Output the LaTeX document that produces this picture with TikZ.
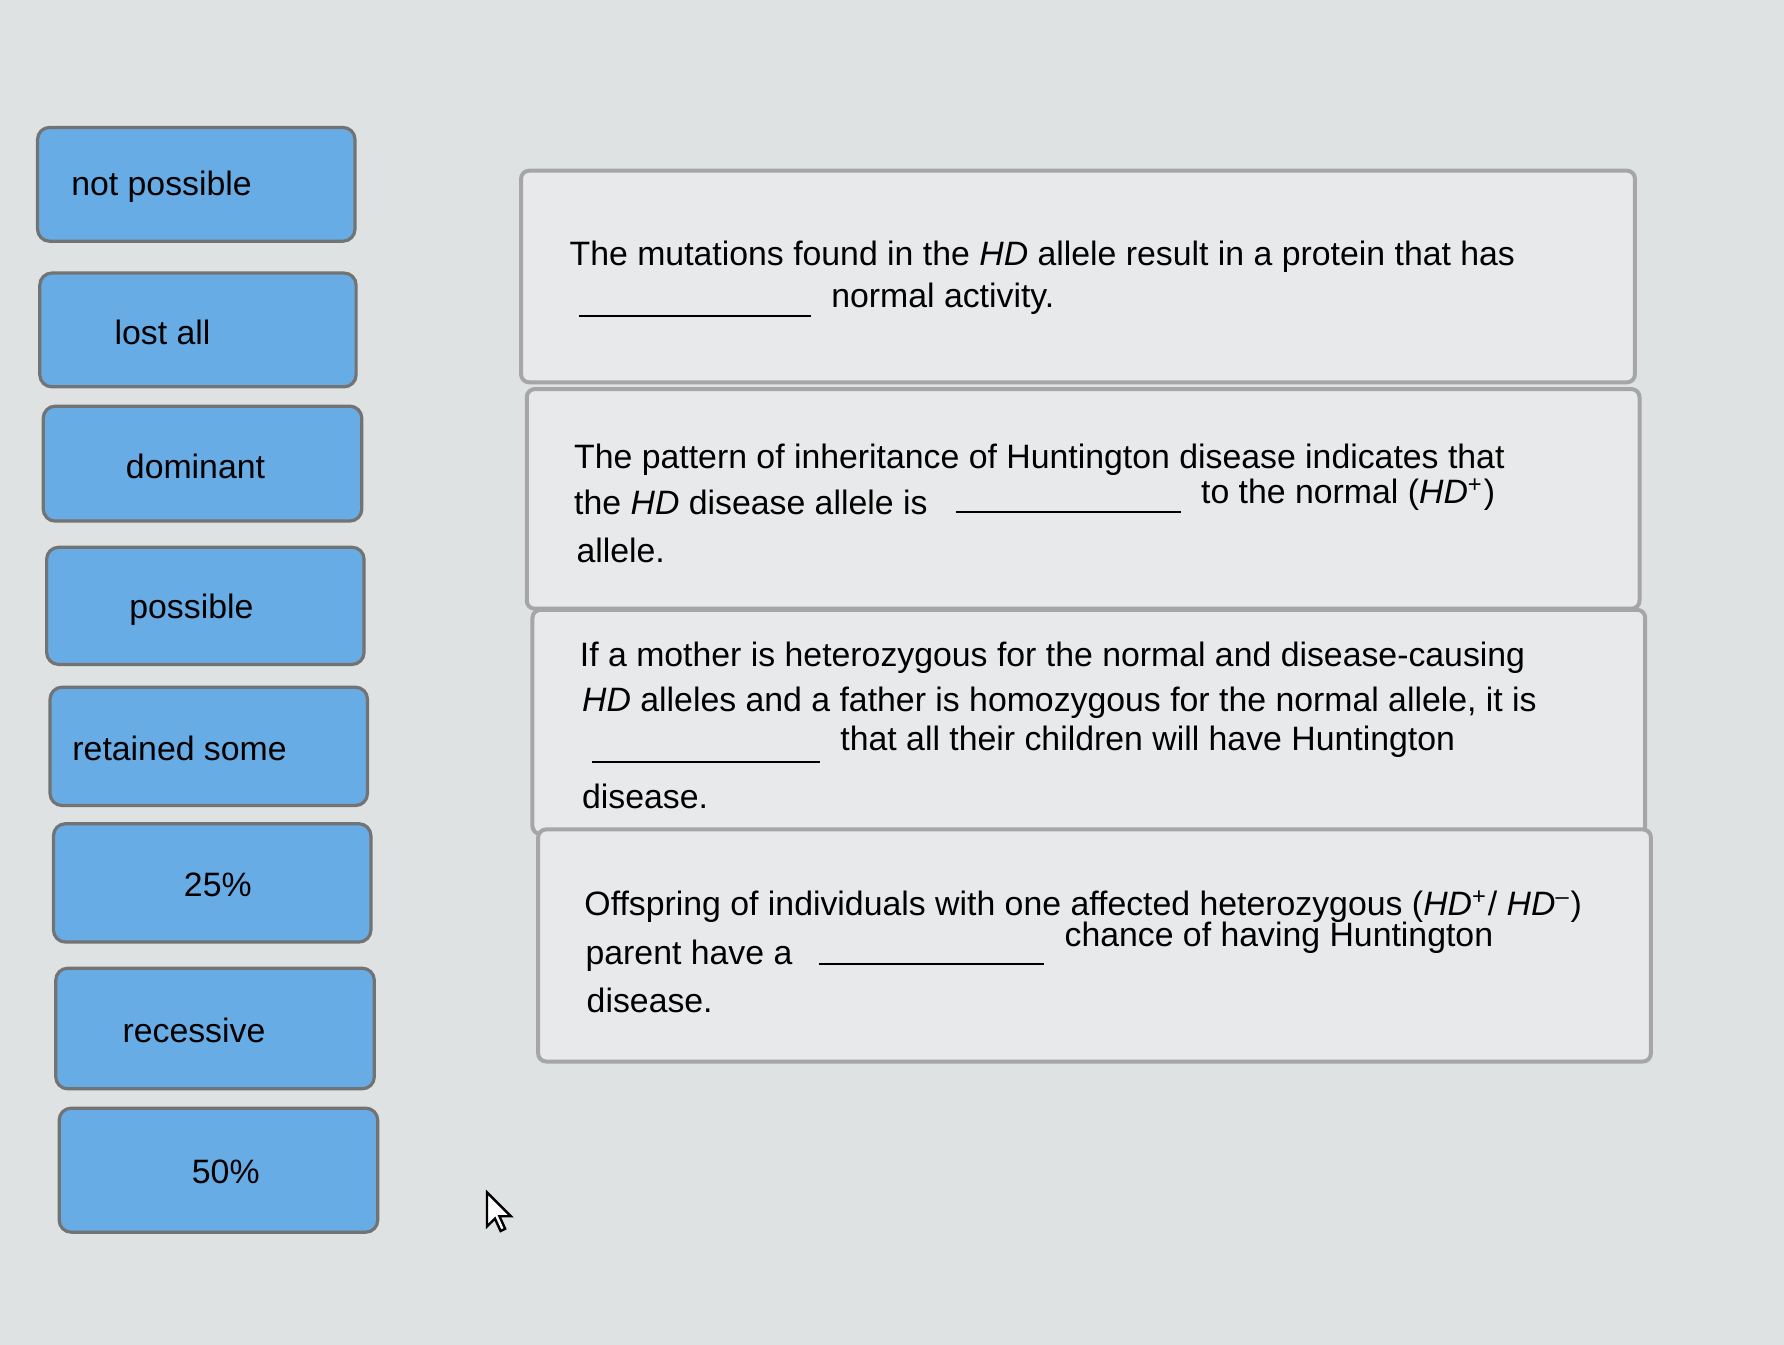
\documentclass[tikz,border=0pt]{standalone}
\usepackage{fontspec}
\setmainfont{Liberation Sans}
\begin{document}
\begin{tikzpicture}[x=0.01cm,y=-0.01cm,
  btn/.style={draw=black!55,fill=btnblue,rounded corners=3pt,line width=0.8pt},
  qbox/.style={draw=black!35,fill=boxgray,rounded corners=2pt,line width=1pt},
  tx/.style={anchor=west,inner sep=0pt,font=\fontsize{8.45}{10}\selectfont},
  bl/.style={line width=0.45pt}]
\definecolor{btnblue}{RGB}{104,172,230}
\definecolor{boxgray}{RGB}{231,233,234}
\definecolor{bg}{RGB}{223,226,227}
\fill[bg] (0,0) rectangle (1568,1182);
\useasboundingbox (0,0) rectangle (1568,1182);
% buttons
\draw[btn] (33,112) rectangle (312,212); \node[tx] (b1) at (62,164) {not possible};
\draw[btn] (35,240) rectangle (313,340); \node[tx] (b2) at (100,292) {lost all};
\draw[btn] (38,357) rectangle (318,458); \node[tx] (b3) at (110,410) {dominant};
\draw[btn] (41,481) rectangle (320,584); \node[tx] (b4) at (113,536) {possible};
\draw[btn] (44,604) rectangle (323,708); \node[tx] (b5) at (63,658) {retained some};
\draw[btn] (47,724) rectangle (326,828); \node[tx] (b6) at (161,778) {25\%};
\draw[btn] (49,851) rectangle (329,957); \node[tx] (b7) at (107,906) {recessive};
\draw[btn] (52,974) rectangle (332,1083); \node[tx] (b8) at (168,1030) {50\%};
% question boxes
\draw[qbox] (458,150) rectangle (1437,336);
\draw[qbox] (463,342) rectangle (1441,535);
\draw[qbox] (468,536) rectangle (1446,733);
\draw[qbox] (473,729) rectangle (1451,933);
% box 1
\node[tx] (t11) at (500,226) {The mutations found in the \textit{HD} allele result in a protein that has};
\draw[bl] (509,278) -- (713,278);
\node[tx] (t12) at (730,263) {normal activity.};
% box 2
\node[tx] (t21) at (504,404) {The pattern of inheritance of Huntington disease indicates that};
\node[tx] (t22) at (504,442) {the \textit{HD} disease allele is};
\draw[bl] (840,450) -- (1038,450);
\node[tx] (t23) at (1055,435) {to the normal (\textit{HD}\textsuperscript{+})};
\node[tx] (t24) at (506,484) {allele.};
% box 3
\node[tx] (t31) at (509,578) {If a mother is heterozygous for the normal and disease-causing};
\node[tx] (t32) at (511,618) {\textit{HD} alleles and a father is homozygous for the normal allele, it is};
\draw[bl] (520,670) -- (721,670);
\node[tx] (t33) at (738,652) {that all their children will have Huntington};
\node[tx] (t34) at (511,700) {disease.};
% box 4
\node[tx] (t41) at (513,797) {Offspring of individuals with one affected heterozygous (\textit{HD}\textsuperscript{+}/ \textit{HD}\textsuperscript{--})};
\node[tx] (t42) at (514,840) {parent have a};
\draw[bl] (720,847) -- (918,847);
\node[tx] (t43) at (935,824) {chance of having Huntington};
\node[tx] (t44) at (515,879) {disease.};
% cursor
\draw[fill=white,line width=0.6pt] (428,1048) -- (428,1078) -- (435,1071) -- (440,1082) -- (444,1080) -- (439,1069) -- (449,1069) -- cycle;
\end{tikzpicture}
\end{document}
